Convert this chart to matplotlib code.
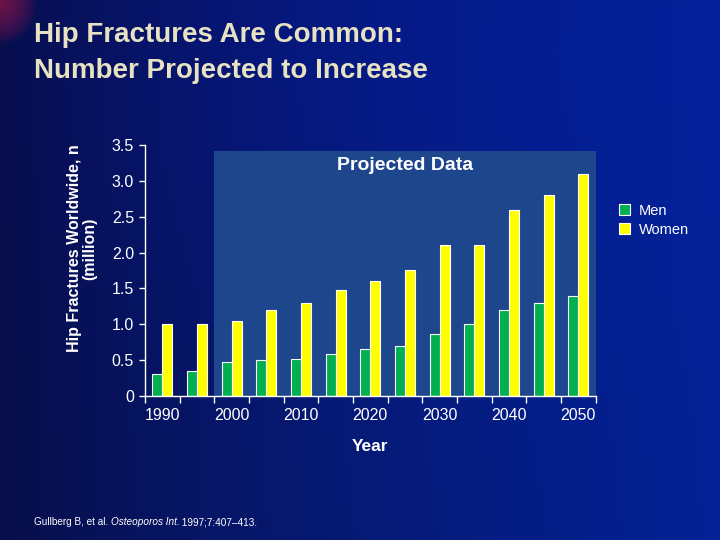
import numpy as np
import matplotlib.pyplot as plt
from matplotlib.patches import Patch

# data
years = [1990, 1995, 2000, 2005, 2010, 2015, 2020, 2025, 2030, 2035, 2040, 2045, 2050]
men = [0.30, 0.35, 0.48, 0.50, 0.52, 0.58, 0.65, 0.70, 0.87, 1.00, 1.20, 1.30, 1.40]
women = [1.00, 1.00, 1.05, 1.20, 1.30, 1.48, 1.60, 1.75, 2.10, 2.10, 2.60, 2.80, 3.10]
yticks = [0, 0.5, 1.0, 1.5, 2.0, 2.5, 3.0, 3.5]
ytick_labels = ["0", "0.5", "1.0", "1.5", "2.0", "2.5", "3.0", "3.5"]
projected_from = 2000
projected_top = 3.42

GREEN = "#00b050"
YELLOW = "#ffff00"
TITLE_COL = "#e6e2c2"

plt.rcParams["font.family"] = ["Liberation Sans", "DejaVu Sans"]

fig = plt.figure(figsize=(7.2, 5.4), dpi=100)

# background gradient: dark navy on left, brighter blue on right
bg = fig.add_axes([0, 0, 1, 1], zorder=-10)
h, w = 270, 360
xx = np.linspace(0, 1, w)[None, :]
yy = np.linspace(0, 1, h)[:, None]
left = np.array([8, 14, 72]) / 255
right = np.array([4, 34, 150]) / 255
t = np.broadcast_to(np.clip(xx ** 0.8, 0, 1), (h, w))
img = left[None, None, :] * (1 - t[..., None]) + right[None, None, :] * t[..., None]
img[..., 2] += 0.06 * np.exp(-((yy - 0.1) / 0.5) ** 2) * np.exp(-((xx - 0.5) / 0.5) ** 2)
# faint red glow in the top-left corner
r = np.sqrt((xx / 0.05) ** 2 + (yy / 0.08) ** 2)
glow = np.clip(1 - r, 0, 1) ** 0.7
red = np.array([140, 20, 70]) / 255
img = img * (1 - glow[..., None] * 0.8) + red[None, None, :] * glow[..., None] * 0.8
bg.imshow(np.clip(img, 0, 1), extent=[0, 1, 0, 1], aspect="auto", origin="upper")
bg.set_xlim(0, 1)
bg.set_ylim(0, 1)
bg.axis("off")

fig.text(0.047, 0.935, "Hip Fractures Are Common:", color=TITLE_COL,
         fontsize=20, fontweight="bold", va="center")
fig.text(0.047, 0.869, "Number Projected to Increase", color=TITLE_COL,
         fontsize=20, fontweight="bold", va="center")

ax = fig.add_axes([0.2014, 0.2667, 0.626, 0.4648])
ax.patch.set_alpha(0)

x = np.arange(len(years))
bw = 0.29
start = years.index(projected_from) - 0.5
ax.fill_between([start, len(years) - 0.5], 0, projected_top, color="#1e468c", zorder=0, lw=0)
ax.text(7.0, 3.22, "Projected Data", color="white",
        fontsize=14, fontweight="bold", ha="center", va="center")

ax.bar(x - bw / 2, men, bw, color=GREEN, edgecolor="white", linewidth=0.8, zorder=2)
ax.bar(x + bw / 2, women, bw, color=YELLOW, edgecolor="white", linewidth=0.8, zorder=2)

ax.set_xlim(-0.5, len(years) - 0.5)
ax.set_ylim(0, 3.5)
ax.set_yticks(yticks)
ax.set_yticklabels(ytick_labels)
ax.set_xticks(np.arange(len(years) + 1) - 0.5)
ax.set_xticklabels([])
ax.set_xticks(x[::2], minor=True)
ax.set_xticklabels([str(y) for y in years[::2]], minor=True)
ax.tick_params(axis="x", which="minor", length=0, pad=9)
ax.tick_params(axis="x", which="major", length=5, color="white", width=1)
ax.tick_params(axis="y", length=4, color="white", width=1, pad=4)
ax.tick_params(colors="white", labelsize=11.5, which="both")

for s in ["top", "right"]:
    ax.spines[s].set_visible(False)
for s in ["left", "bottom"]:
    ax.spines[s].set_color("white")
    ax.spines[s].set_linewidth(1)

ax.set_xlabel("Year", color="white", fontsize=12.5, fontweight="bold", labelpad=11)
fig.text(0.114, 0.54, "Hip Fractures Worldwide, n\n(million)", color="white",
         fontsize=11.5, fontweight="bold", rotation=90, ha="center", va="center",
         linespacing=1.05)

handles = [Patch(facecolor=GREEN, edgecolor="white", lw=0.8, label="Men"),
           Patch(facecolor=YELLOW, edgecolor="white", lw=0.8, label="Women")]
fig.legend(handles=handles, loc="center left", bbox_to_anchor=(0.842, 0.592),
           frameon=False, fontsize=10.5, labelcolor="white", handlelength=0.75,
           handleheight=0.75, handletextpad=0.6, labelspacing=0.35)

# citation with an italic journal name, pieces placed one after another
renderer = fig.canvas.get_renderer()
xpos = 0.047
for part, style in [("Gullberg B, et al. ", "normal"), ("Osteoporos Int.", "italic"),
                    (" 1997;7:407\u2013413.", "normal")]:
    txt = fig.text(xpos, 0.033, part, color="white", fontsize=7.2, style=style, va="center")
    xpos += txt.get_window_extent(renderer).width / fig.bbox.width

fig.savefig("out.png", dpi=100)
